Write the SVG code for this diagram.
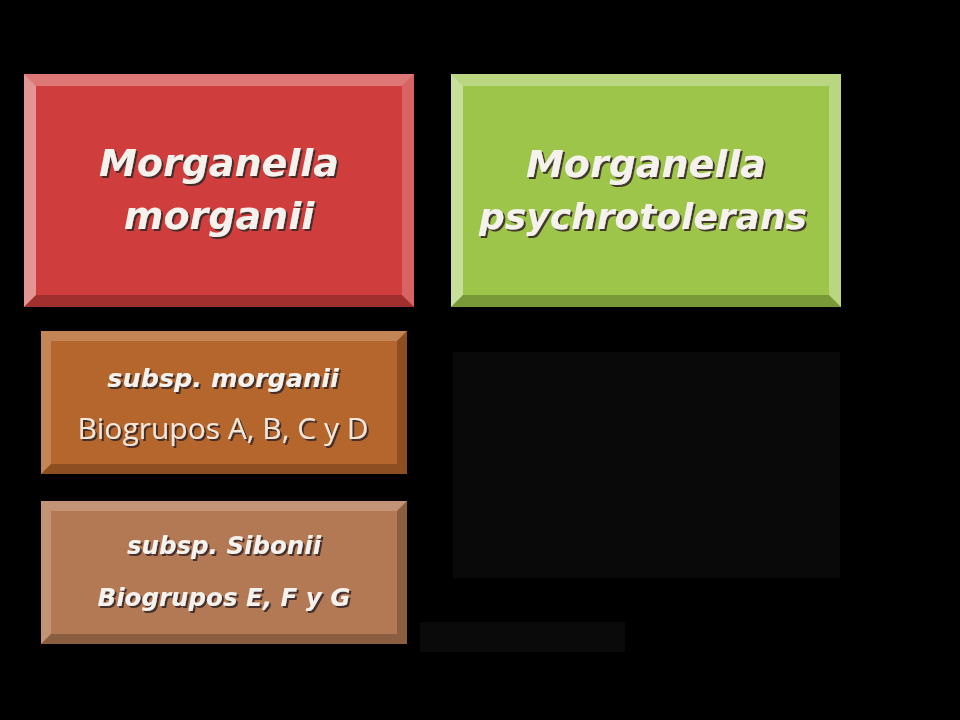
<svg xmlns="http://www.w3.org/2000/svg" width="960" height="720" viewBox="0 0 960 720">
<defs>
<filter id="sh" x="-10%" y="-20%" width="120%" height="150%">
<feDropShadow dx="2" dy="2" stdDeviation="0.6" flood-color="#3a2c2a" flood-opacity="0.9"/>
</filter>
</defs>
<style>
.t{font-family:"DejaVu Sans",Verdana,sans-serif;font-weight:bold;font-style:italic;text-anchor:middle;fill:#f5f1ec;filter:url(#sh)}
.r{font-family:"Open Sans","Liberation Sans",sans-serif;text-anchor:middle;fill:#f3e6da;filter:url(#sh)}
.hl{fill:#ffffff;opacity:0.3}
.dk{fill:#000000;opacity:0.22}
</style>
<rect width="960" height="720" fill="#000"/>
<g id="red">
<rect x="24" y="74" width="390" height="233" fill="#cf3d3c"/>
<polygon class="hl" points="24,74 414,74 402,86 36,86"/>
<polygon class="hl" points="24,74 36,86 36,295 24,307" style="opacity:0.45"/>
<polygon class="hl" points="414,74 414,307 402,295 402,86" style="opacity:0.2"/>
<polygon class="dk" points="24,307 414,307 402,295 36,295"/>
<text class="t" x="219" y="176" font-size="38">Morganella</text>
<text class="t" x="219" y="229" font-size="38">morganii</text>
</g>
<g id="green">
<rect x="451" y="74" width="390" height="233" fill="#9cc549"/>
<polygon class="hl" points="451,74 841,74 829,86 463,86"/>
<polygon class="hl" points="451,74 463,86 463,295 451,307" style="opacity:0.45"/>
<polygon class="hl" points="841,74 841,307 829,295 829,86" style="opacity:0.3"/>
<polygon class="dk" points="451,307 841,307 829,295 463,295"/>
<text class="t" x="646" y="177" font-size="38" fill="#f4f6e6">Morganella</text>
<text class="t" x="643" y="229" font-size="36">psychrotolerans</text>
</g>
<g id="sub-morganii">
<rect x="41" y="331" width="366" height="143" fill="#b5662c"/>
<polygon class="hl" points="41,331 407,331 397,341 51,341" style="opacity:0.2"/>
<polygon class="hl" points="41,331 51,341 51,464 41,474" style="opacity:0.2"/>
<polygon class="dk" points="407,331 407,474 397,464 397,341"/>
<polygon class="dk" points="41,474 407,474 397,464 51,464"/>
<text class="t" x="223" y="387" font-size="25.5">subsp. morganii</text>
<text class="r" x="223" y="439" font-size="30">Biogrupos A, B, C y D</text>
</g>
<g id="sub-sibonii">
<rect x="41" y="501" width="366" height="143" fill="#b37955"/>
<polygon class="hl" points="41,501 407,501 397,511 51,511" style="opacity:0.2"/>
<polygon class="hl" points="41,501 51,511 51,634 41,644" style="opacity:0.2"/>
<polygon class="dk" points="407,501 407,644 397,634 397,511"/>
<polygon class="dk" points="41,644 407,644 397,634 51,634"/>
<text class="t" x="224" y="554" font-size="24.5">subsp. Sibonii</text>
<text class="t" x="224" y="606" font-size="24.5">Biogrupos E, F y G</text>
</g>
<g id="dark-box">
<rect x="453" y="352" width="387" height="226" fill="#0a0909"/>
</g>
<g id="dark-bar">
<rect x="420" y="622" width="205" height="30" fill="#0b0a0b"/>
</g>
<g id="connectors"/>
</svg>
